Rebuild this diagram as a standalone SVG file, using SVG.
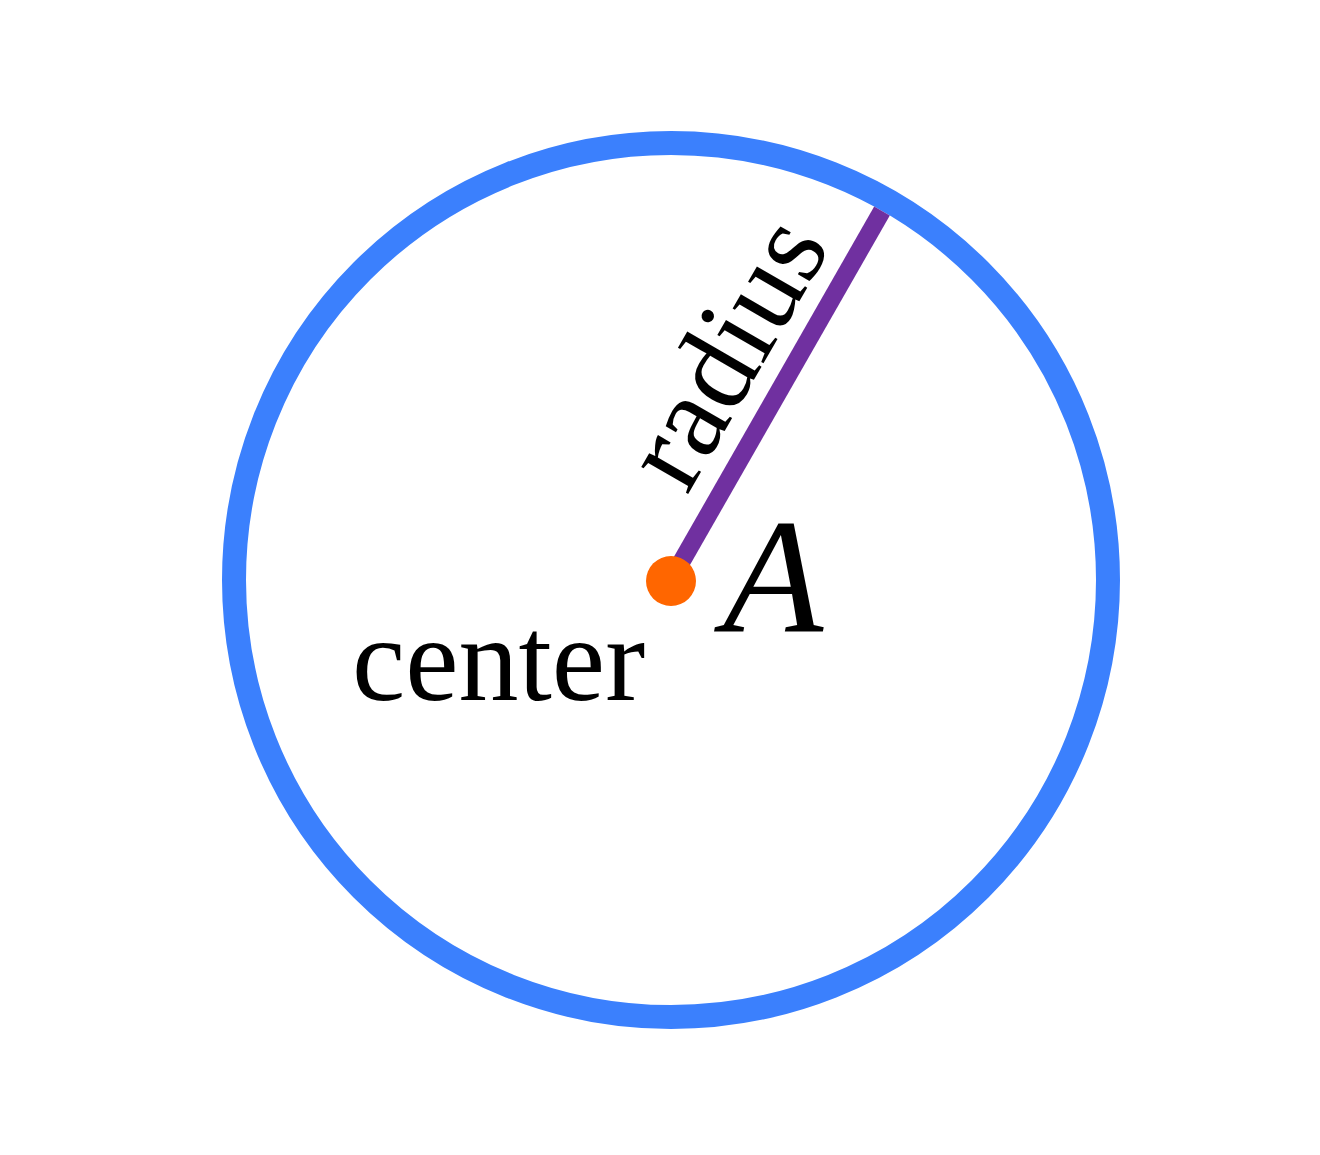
<svg xmlns="http://www.w3.org/2000/svg" width="1320" height="1155" viewBox="0 0 1320 1155">
<style>
.lbl{font-family:"Liberation Serif","DejaVu Serif",serif;fill:#000}
</style>
<rect width="1320" height="1155" fill="#fff"/>
<g id="circle"><circle cx="671" cy="580" r="437" fill="none" stroke="#3b80fd" stroke-width="24"/></g>
<g id="connectors"><line x1="671" y1="580" x2="882" y2="211" stroke="#7030a0" stroke-width="18"/></g>
<g id="center-point"><circle cx="671" cy="581" r="25" fill="#ff6600"/></g>
<g id="label-radius"><text class="lbl" font-size="118" transform="translate(687,496) rotate(-60)">radius</text></g>
<g id="label-center"><text class="lbl" font-size="120" x="352" y="700">center</text></g>
<g id="label-A"><text class="lbl" font-size="164" font-style="italic" x="723" y="631">A</text></g>
</svg>
